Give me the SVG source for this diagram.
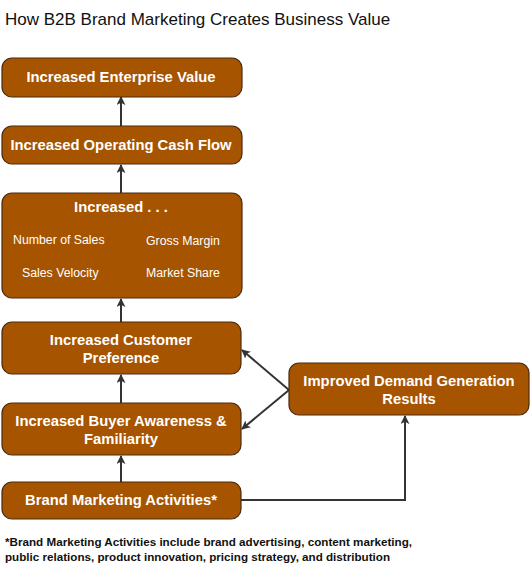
<svg xmlns="http://www.w3.org/2000/svg" width="530" height="568" viewBox="0 0 530 568">
<defs>
<marker id="ah" viewBox="0 0 10 10" refX="9" refY="5" markerWidth="4.5" markerHeight="4.5" orient="auto" markerUnits="strokeWidth">
<path d="M0,0 L10,5 L0,10 L2.5,5 z" fill="#333"/>
</marker>
<style>
.box{fill:#A65400;stroke:#4A2A10;stroke-width:1.2}
.t{font-family:"Liberation Sans",Arial,sans-serif;font-weight:bold;font-size:14.8px;fill:#fff;text-anchor:middle}
.s{font-family:"Liberation Sans",Arial,sans-serif;font-size:12.3px;fill:#fff}
.c{fill:none;stroke:#333;stroke-width:2}
</style>
</defs>
<rect width="530" height="568" fill="#fff"/>
<text x="5" y="25" font-family="Liberation Sans,Arial,sans-serif" font-size="17" fill="#111">How B2B Brand Marketing Creates Business Value</text>

<g id="connectors">
<line class="c" x1="121" y1="126" x2="121" y2="97" marker-end="url(#ah)"/>
<line class="c" x1="121" y1="193" x2="121" y2="165" marker-end="url(#ah)"/>
<line class="c" x1="121" y1="322" x2="121" y2="299" marker-end="url(#ah)"/>
<line class="c" x1="121" y1="403" x2="121" y2="375" marker-end="url(#ah)"/>
<line class="c" x1="121" y1="482" x2="121" y2="456" marker-end="url(#ah)"/>
<polyline class="c" points="289,390 242,350" marker-end="url(#ah)"/>
<polyline class="c" points="289,390 242,429" marker-end="url(#ah)"/>
<polyline class="c" points="241,500 405,500 405,416" marker-end="url(#ah)"/>
</g>

<g id="n1"><rect class="box" x="2" y="58" width="240" height="39" rx="10"/><text class="t" x="121" y="82">Increased Enterprise Value</text></g>
<g id="n2"><rect class="box" x="2" y="126" width="240" height="38" rx="10"/><text class="t" x="121" y="150">Increased Operating Cash Flow</text></g>
<g id="n3"><rect class="box" x="2" y="193" width="240" height="105" rx="10"/>
<text class="t" x="121" y="212">Increased . . .</text>
<text class="s" x="13" y="244">Number of Sales</text>
<text class="s" x="146" y="245">Gross Margin</text>
<text class="s" x="22" y="277">Sales Velocity</text>
<text class="s" x="146" y="277">Market Share</text>
</g>
<g id="n4"><rect class="box" x="2" y="322" width="239" height="52" rx="10"/><text class="t" x="121" y="345">Increased Customer</text><text class="t" x="121" y="363">Preference</text></g>
<g id="n5"><rect class="box" x="2" y="403" width="239" height="52" rx="10"/><text class="t" x="121" y="426">Increased Buyer Awareness &amp;</text><text class="t" x="121" y="444">Familiarity</text></g>
<g id="n6"><rect class="box" x="2" y="482" width="239" height="37" rx="10"/><text class="t" x="121" y="505">Brand Marketing Activities*</text></g>
<g id="n7"><rect class="box" x="289" y="363" width="240" height="52" rx="10"/><text class="t" x="409" y="386">Improved Demand Generation</text><text class="t" x="409" y="404">Results</text></g>

<text font-family="Liberation Sans,Arial,sans-serif" font-weight="bold" font-size="11.5" fill="#111" x="5" y="546" textLength="407" lengthAdjust="spacingAndGlyphs">*Brand Marketing Activities include brand advertising, content marketing,</text>
<text font-family="Liberation Sans,Arial,sans-serif" font-weight="bold" font-size="11.5" fill="#111" x="5" y="561" textLength="385" lengthAdjust="spacingAndGlyphs">public relations, product innovation, pricing strategy, and distribution</text>
</svg>
